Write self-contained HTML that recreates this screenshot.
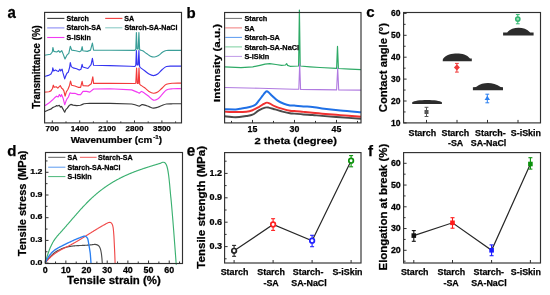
<!DOCTYPE html>
<html><head><meta charset="utf-8"><style>
html,body{margin:0;padding:0;background:#fff;overflow:hidden;}
svg{display:block;filter:blur(0.45px);}
text{font-family:"Liberation Sans", sans-serif;font-weight:bold;fill:#000;stroke:#000;stroke-width:0.25px;}
</style></head><body>
<svg width="550" height="295" viewBox="0 0 550 295">
<line x1="52.30" y1="122.90" x2="52.30" y2="120.40" stroke="#303030" stroke-width="1.0"/>
<text x="52.30" y="131.40" font-size="8.0" text-anchor="middle">700</text>
<line x1="66.00" y1="122.90" x2="66.00" y2="121.40" stroke="#303030" stroke-width="1.0"/>
<line x1="79.70" y1="122.90" x2="79.70" y2="120.40" stroke="#303030" stroke-width="1.0"/>
<text x="79.70" y="131.40" font-size="8.0" text-anchor="middle">1400</text>
<line x1="93.40" y1="122.90" x2="93.40" y2="121.40" stroke="#303030" stroke-width="1.0"/>
<line x1="107.10" y1="122.90" x2="107.10" y2="120.40" stroke="#303030" stroke-width="1.0"/>
<text x="107.10" y="131.40" font-size="8.0" text-anchor="middle">2100</text>
<line x1="120.80" y1="122.90" x2="120.80" y2="121.40" stroke="#303030" stroke-width="1.0"/>
<line x1="134.50" y1="122.90" x2="134.50" y2="120.40" stroke="#303030" stroke-width="1.0"/>
<text x="134.50" y="131.40" font-size="8.0" text-anchor="middle">2800</text>
<line x1="148.20" y1="122.90" x2="148.20" y2="121.40" stroke="#303030" stroke-width="1.0"/>
<line x1="161.90" y1="122.90" x2="161.90" y2="120.40" stroke="#303030" stroke-width="1.0"/>
<text x="161.90" y="131.40" font-size="8.0" text-anchor="middle">3500</text>
<line x1="175.60" y1="122.90" x2="175.60" y2="121.40" stroke="#303030" stroke-width="1.0"/>
<g fill="none" stroke-width="1.15" stroke-linejoin="round">
<path d="M44.50,55.20 L50.40,54.30 L52.30,52.00 L52.90,47.50 L53.80,51.40 L56.70,52.00 L58.60,50.70 L59.90,52.30 L61.80,50.70 L63.10,53.90 L65.00,59.00 L66.90,55.20 L68.80,53.30 L70.30,46.30 L71.70,50.10 L75.80,50.70 L79.60,51.70 L81.20,50.70 L82.20,46.70 L82.80,50.70 L87.30,51.40 L90.50,50.10 L92.40,43.10 L93.60,50.10 L110.00,50.30 L134.90,50.40 L135.80,49.00 L136.40,32.50 L137.10,49.00 L138.20,49.00 L138.90,32.50 L139.60,49.50 L140.60,50.20 C140.95,50.30 141.72,50.25 142.70,50.80 C143.68,51.35 145.20,52.60 146.50,53.50 C147.80,54.40 149.17,55.62 150.50,56.20 C151.83,56.78 153.17,57.12 154.50,57.00 C155.83,56.88 157.17,56.28 158.50,55.50 C159.83,54.72 161.20,53.13 162.50,52.30 C163.80,51.47 164.72,50.82 166.30,50.50 C167.88,50.18 169.47,50.42 172.00,50.40 C174.53,50.38 179.92,50.40 181.50,50.40" stroke="#3a9e98"/>
<path d="M44.50,76.50 L45.30,76.30 L48.40,75.40 L51.00,74.10 L52.40,71.00 L52.80,67.90 L53.70,71.00 L55.50,70.10 L57.20,71.00 L58.50,71.40 L59.90,69.20 L60.70,71.00 L62.10,69.20 L62.90,72.70 L64.70,78.90 L65.60,76.30 L66.90,73.20 L68.20,72.30 L69.60,67.50 L70.30,62.60 L71.30,66.60 L73.10,67.90 L76.60,68.80 L79.20,70.10 L81.00,69.20 L82.10,64.40 L82.80,67.00 L87.90,68.50 L91.10,64.60 L92.40,58.30 L93.60,65.30 L110.00,65.60 L130.00,66.30 L134.90,66.50 L135.80,65.00 L136.40,50.50 L137.10,65.00 L138.20,65.00 L138.90,50.50 L139.60,66.50 L140.40,67.60 C141.12,68.13 143.27,69.72 144.70,70.80 C146.13,71.88 147.55,73.30 149.00,74.10 C150.45,74.90 151.95,75.60 153.40,75.60 C154.85,75.60 156.27,75.07 157.70,74.10 C159.13,73.13 160.55,71.07 162.00,69.80 C163.45,68.53 164.58,67.12 166.40,66.50 C168.22,65.88 170.38,66.17 172.90,66.10 C175.42,66.03 180.07,66.10 181.50,66.10" stroke="#3535f0"/>
<path d="M44.50,92.10 L48.90,91.70 L50.90,90.90 L52.50,88.50 L53.30,85.20 L54.20,87.30 L56.20,86.80 L57.80,88.10 L59.00,86.80 L60.30,85.60 L61.50,88.10 L62.70,88.90 L63.90,90.90 L65.10,96.20 L66.40,91.70 L68.00,89.30 L69.60,85.20 L70.50,81.00 L71.60,85.20 L74.90,86.00 L78.10,87.30 L80.60,87.30 L82.10,81.40 L83.00,85.60 L88.20,86.00 L91.30,83.70 L92.80,76.90 L93.60,83.40 L110.00,83.40 L134.50,83.50 L135.80,83.30 L136.60,68.00 L137.30,83.30 L138.30,83.30 L139.00,68.00 L139.70,84.30 L140.40,84.90 C141.12,85.38 143.27,86.72 144.70,87.80 C146.13,88.88 147.55,90.50 149.00,91.40 C150.45,92.30 151.95,93.08 153.40,93.20 C154.85,93.32 156.27,92.93 157.70,92.10 C159.13,91.27 160.55,89.50 162.00,88.20 C163.45,86.90 164.58,85.13 166.40,84.30 C168.22,83.47 170.38,83.40 172.90,83.20 C175.42,83.00 180.07,83.12 181.50,83.10" stroke="#f23a3a"/>
<path d="M44.50,105.80 L45.20,105.50 L48.90,103.10 L52.10,100.30 L54.60,97.80 L56.60,96.20 L58.20,97.00 L59.40,94.60 L60.70,96.60 L61.50,94.60 L63.10,98.20 L64.70,104.70 L66.00,101.10 L67.20,98.60 L68.40,97.00 L70.00,92.90 L71.60,93.30 L74.90,93.30 L78.10,94.60 L80.60,94.60 L83.00,91.30 L86.70,91.40 L89.80,92.10 L93.60,89.00 L110.00,88.80 L131.70,89.90 L137.10,92.10 L139.30,93.20 L141.40,91.40 C141.77,91.58 142.50,91.77 143.60,92.50 C144.70,93.23 146.37,94.53 148.00,95.80 C149.63,97.07 151.78,99.57 153.40,100.10 C155.02,100.63 156.27,99.90 157.70,99.00 C159.13,98.10 160.55,96.22 162.00,94.70 C163.45,93.18 164.58,90.88 166.40,89.90 C168.22,88.92 170.38,89.00 172.90,88.80 C175.42,88.60 180.07,88.72 181.50,88.70" stroke="#f23af2"/>
<path d="M44.50,111.70 L45.10,111.50 L48.40,110.00 L51.30,108.90 L52.70,107.50 L53.80,107.10 L55.30,106.40 L56.70,105.60 L57.80,106.00 L59.30,105.30 L60.40,107.10 L61.50,106.40 L62.90,108.90 L64.70,112.20 L65.80,109.60 L67.30,108.20 L69.10,105.60 L70.90,104.40 L73.10,105.10 L76.70,105.60 L80.40,105.30 L82.50,104.40 L84.00,103.80 L89.80,103.20 L110.00,103.40 L131.70,104.00 L135.00,104.80 L137.10,105.50 L139.30,106.20 L142.10,104.50 C142.53,104.60 143.55,104.75 144.70,105.10 C145.85,105.45 147.55,106.10 149.00,106.60 C150.45,107.10 151.95,107.98 153.40,108.10 C154.85,108.22 156.27,107.73 157.70,107.30 C159.13,106.87 160.55,106.05 162.00,105.50 C163.45,104.95 164.58,104.28 166.40,104.00 C168.22,103.72 170.38,103.85 172.90,103.80 C175.42,103.75 180.07,103.72 181.50,103.70" stroke="#3a3a3a"/>
</g>
<line x1="47.20" y1="18.40" x2="64.40" y2="18.40" stroke="#3a3a3a" stroke-width="1.1"/>
<text transform="translate(66.60,20.90) scale(1.020,1)" font-size="7.0" text-anchor="start">Starch</text>
<line x1="47.20" y1="27.90" x2="64.40" y2="27.90" stroke="#8c8cf5" stroke-width="1.1"/>
<text transform="translate(66.60,30.40) scale(1.020,1)" font-size="7.0" text-anchor="start">Starch-SA</text>
<line x1="47.20" y1="37.50" x2="64.40" y2="37.50" stroke="#f23af2" stroke-width="1.1"/>
<text transform="translate(66.60,40.00) scale(1.020,1)" font-size="7.0" text-anchor="start">S-iSkin</text>
<line x1="105.20" y1="18.40" x2="122.40" y2="18.40" stroke="#f23a3a" stroke-width="1.1"/>
<text transform="translate(124.20,20.90) scale(1.020,1)" font-size="7.0" text-anchor="start">SA</text>
<line x1="105.20" y1="27.80" x2="122.40" y2="27.80" stroke="#8ccbc6" stroke-width="1.1"/>
<text transform="translate(124.40,30.30) scale(1.020,1)" font-size="7.0" text-anchor="start">Starch-SA-NaCl</text>
<rect x="44.6" y="12.4" width="136.9" height="110.5" fill="none" stroke="#303030" stroke-width="1.15"/>
<text transform="translate(70.7,143.2) scale(1.045,1)" font-size="9.4">Wavenumber (cm<tspan font-size="6" dx="1" dy="-4">-1</tspan><tspan dy="4">)</tspan></text>
<text transform="translate(40.10,67.00) rotate(-90) scale(0.935,1)" font-size="10.4" text-anchor="middle">Transmittance (%)</text>
<text transform="translate(7.60,18.00) scale(0.950,1)" font-size="15.8" text-anchor="start">a</text>
<line x1="252.50" y1="122.90" x2="252.50" y2="119.90" stroke="#303030" stroke-width="1.0"/>
<text x="252.50" y="132.30" font-size="8.8" text-anchor="middle">15</text>
<line x1="294.50" y1="122.90" x2="294.50" y2="119.90" stroke="#303030" stroke-width="1.0"/>
<text x="294.50" y="132.30" font-size="8.8" text-anchor="middle">30</text>
<line x1="336.50" y1="122.90" x2="336.50" y2="119.90" stroke="#303030" stroke-width="1.0"/>
<text x="336.50" y="132.30" font-size="8.8" text-anchor="middle">45</text>
<line x1="231.50" y1="122.90" x2="231.50" y2="120.90" stroke="#303030" stroke-width="1.0"/>
<line x1="273.50" y1="122.90" x2="273.50" y2="120.90" stroke="#303030" stroke-width="1.0"/>
<line x1="315.50" y1="122.90" x2="315.50" y2="120.90" stroke="#303030" stroke-width="1.0"/>
<line x1="357.50" y1="122.90" x2="357.50" y2="120.90" stroke="#303030" stroke-width="1.0"/>
<g fill="none" stroke-linejoin="round">
<polyline points="224.50,66.80 241.00,67.60 252.80,66.80 260.00,65.30 265.00,64.20 269.80,63.70 276.00,64.50 281.60,65.40 285.50,65.00 286.60,63.60 287.60,65.40 290.00,66.30 298.60,66.00 299.40,10.00 300.20,66.00 310.00,66.80 320.00,67.50 336.60,68.40 337.50,46.40 338.40,68.50 350.00,69.20 361.00,69.70" stroke="#2eaa66" stroke-width="1.2"/>
<polyline points="224.50,87.50 260.00,88.30 294.00,89.20 298.80,89.20 299.70,63.70 300.60,89.40 336.60,89.90 337.70,68.00 338.70,90.00 361.00,90.10" stroke="#b07ae0" stroke-width="1.1"/>
<path d="M224.50,116.30 C226.37,116.47 232.07,117.35 235.70,117.30 C239.33,117.25 243.50,116.43 246.30,116.00 C249.10,115.57 250.42,115.63 252.50,114.70 C254.58,113.77 256.70,111.58 258.80,110.40 C260.90,109.22 263.43,108.07 265.10,107.60 C266.77,107.13 267.13,107.30 268.80,107.60 C270.47,107.90 272.80,108.73 275.10,109.40 C277.40,110.07 280.12,110.95 282.60,111.60 C285.08,112.25 288.07,112.97 290.00,113.30 C291.93,113.63 291.98,113.40 294.20,113.60 C296.42,113.80 300.25,114.27 303.30,114.50 C306.35,114.73 309.38,114.77 312.50,115.00 C315.62,115.23 317.37,115.52 322.00,115.90 C326.63,116.28 333.80,116.83 340.30,117.30 C346.80,117.77 357.55,118.47 361.00,118.70" stroke="#4a4a4a" stroke-width="1.9"/>
<path d="M224.50,111.65 C226.37,111.72 232.07,112.03 235.70,112.05 C239.33,112.07 243.50,112.05 246.30,111.75 C249.10,111.45 250.42,111.03 252.50,110.25 C254.58,109.47 256.92,108.10 258.80,107.05 C260.68,106.00 262.45,104.68 263.80,103.95 C265.15,103.22 265.87,102.70 266.90,102.65 C267.93,102.60 268.63,103.02 270.00,103.65 C271.37,104.28 273.00,105.57 275.10,106.45 C277.20,107.33 280.12,108.23 282.60,108.95 C285.08,109.67 288.07,110.46 290.00,110.80 C291.93,111.14 291.98,110.82 294.20,111.00 C296.42,111.18 300.25,111.60 303.30,111.90 C306.35,112.20 309.38,112.50 312.50,112.80 C315.62,113.10 317.37,113.32 322.00,113.70 C326.63,114.08 333.80,114.60 340.30,115.10 C346.80,115.60 357.55,116.43 361.00,116.70" stroke="#f03030" stroke-width="1.9"/>
<path d="M224.50,109.20 C226.37,109.23 233.12,109.47 235.70,109.40 C238.28,109.33 238.23,109.07 240.00,108.80 C241.77,108.53 244.22,108.25 246.30,107.80 C248.38,107.35 250.93,106.67 252.50,106.10 C254.07,105.53 254.65,105.30 255.70,104.40 C256.75,103.50 257.65,102.15 258.80,100.70 C259.95,99.25 261.55,97.07 262.60,95.70 C263.65,94.33 264.38,93.23 265.10,92.50 C265.82,91.77 266.28,91.30 266.90,91.30 C267.52,91.30 267.85,91.67 268.80,92.50 C269.75,93.33 271.13,94.93 272.60,96.30 C274.07,97.67 275.72,99.45 277.60,100.70 C279.48,101.95 281.83,103.02 283.90,103.80 C285.97,104.58 288.28,105.12 290.00,105.40 C291.72,105.68 291.98,105.33 294.20,105.50 C296.42,105.67 300.25,106.17 303.30,106.40 C306.35,106.63 309.38,106.55 312.50,106.90 C315.62,107.25 317.37,107.88 322.00,108.50 C326.63,109.12 333.80,109.97 340.30,110.60 C346.80,111.23 357.55,112.02 361.00,112.30" stroke="#1f70e6" stroke-width="2.0"/>
</g>
<line x1="225.20" y1="18.40" x2="242.00" y2="18.40" stroke="#707070" stroke-width="1.0"/>
<text x="244.40" y="21.10" font-size="7.35" text-anchor="start">Starch</text>
<line x1="225.20" y1="27.90" x2="242.00" y2="27.90" stroke="#f07a7a" stroke-width="1.0"/>
<text x="244.40" y="30.60" font-size="7.35" text-anchor="start">SA</text>
<line x1="225.20" y1="37.40" x2="242.00" y2="37.40" stroke="#5a9af0" stroke-width="1.0"/>
<text x="244.40" y="40.10" font-size="7.35" text-anchor="start">Starch-SA</text>
<line x1="225.20" y1="46.90" x2="242.00" y2="46.90" stroke="#7acf9e" stroke-width="1.0"/>
<text x="244.40" y="49.60" font-size="7.35" text-anchor="start">Starch-SA-NaCl</text>
<line x1="225.20" y1="56.40" x2="242.00" y2="56.40" stroke="#c09ae8" stroke-width="1.0"/>
<text x="244.40" y="59.10" font-size="7.35" text-anchor="start">S-iSkin</text>
<rect x="224.6" y="12.5" width="136.4" height="110.4" fill="none" stroke="#303030" stroke-width="1.15"/>
<text transform="translate(254.60,143.70) scale(1.140,1)" font-size="9.7" text-anchor="start">2 theta (degree)</text>
<text transform="translate(219.50,63.00) rotate(-90) scale(1.200,1)" font-size="9.6" text-anchor="middle">Intensity (a.u.)</text>
<text x="186.45" y="17.80" font-size="15" text-anchor="start">b</text>
<line x1="403.60" y1="122.90" x2="406.60" y2="122.90" stroke="#303030" stroke-width="1.0"/>
<text transform="translate(400.60,125.50) scale(1.030,1)" font-size="8.3" text-anchor="end">10</text>
<line x1="403.60" y1="101.00" x2="406.60" y2="101.00" stroke="#303030" stroke-width="1.0"/>
<text transform="translate(400.60,103.60) scale(1.030,1)" font-size="8.3" text-anchor="end">20</text>
<line x1="403.60" y1="79.10" x2="406.60" y2="79.10" stroke="#303030" stroke-width="1.0"/>
<text transform="translate(400.60,81.70) scale(1.030,1)" font-size="8.3" text-anchor="end">30</text>
<line x1="403.60" y1="57.20" x2="406.60" y2="57.20" stroke="#303030" stroke-width="1.0"/>
<text transform="translate(400.60,59.80) scale(1.030,1)" font-size="8.3" text-anchor="end">40</text>
<line x1="403.60" y1="35.30" x2="406.60" y2="35.30" stroke="#303030" stroke-width="1.0"/>
<text transform="translate(400.60,37.90) scale(1.030,1)" font-size="8.3" text-anchor="end">50</text>
<line x1="403.60" y1="13.40" x2="406.60" y2="13.40" stroke="#303030" stroke-width="1.0"/>
<text transform="translate(400.60,16.00) scale(1.030,1)" font-size="8.3" text-anchor="end">60</text>
<line x1="403.60" y1="111.95" x2="405.60" y2="111.95" stroke="#303030" stroke-width="1.0"/>
<line x1="403.60" y1="90.05" x2="405.60" y2="90.05" stroke="#303030" stroke-width="1.0"/>
<line x1="403.60" y1="68.15" x2="405.60" y2="68.15" stroke="#303030" stroke-width="1.0"/>
<line x1="403.60" y1="46.25" x2="405.60" y2="46.25" stroke="#303030" stroke-width="1.0"/>
<line x1="403.60" y1="24.35" x2="405.60" y2="24.35" stroke="#303030" stroke-width="1.0"/>
<line x1="426.50" y1="122.90" x2="426.50" y2="119.90" stroke="#303030" stroke-width="1.0"/>
<line x1="457.00" y1="122.90" x2="457.00" y2="119.90" stroke="#303030" stroke-width="1.0"/>
<line x1="487.50" y1="122.90" x2="487.50" y2="119.90" stroke="#303030" stroke-width="1.0"/>
<line x1="518.00" y1="122.90" x2="518.00" y2="119.90" stroke="#303030" stroke-width="1.0"/>
<g fill="#2c2c2c">
<path d="M412.2,104.1 L412.2,102.2 C414,100.8 420,99.9 427,99.9 C434,99.9 440,100.8 441.9,102.2 L441.9,104.1 Z"/>
<path d="M442.7,61.2 L442.9,59.1 C446,54.1 452,53.4 457,53.4 C462,53.4 467,54.6 470,58.4 L471.8,58.6 L471.8,61.2 Z"/>
<path d="M472.9,90.2 L472.9,87.3 L476,87 C480,83.6 484,82.9 488,82.9 C492,82.9 497,84 500.6,87 L503,87.3 L503,90.2 Z"/>
<path d="M503.1,35.4 L503.1,32.6 L507.2,32.4 C510,29 514,27.8 518.6,27.8 C523,27.8 527,29 530.2,32.4 L533.6,32.6 L533.6,35.4 Z"/>
</g>
<line x1="426.50" y1="107.30" x2="426.50" y2="116.50" stroke="#555" stroke-width="1.0"/>
<line x1="424.60" y1="107.30" x2="428.40" y2="107.30" stroke="#555" stroke-width="1.0"/>
<line x1="424.60" y1="116.50" x2="428.40" y2="116.50" stroke="#555" stroke-width="1.0"/>
<rect x="424.5" y="110" width="4" height="4" fill="#555"/>
<line x1="456.90" y1="63.40" x2="456.90" y2="72.10" stroke="#f03a3a" stroke-width="1.0"/>
<line x1="455.00" y1="63.40" x2="458.80" y2="63.40" stroke="#f03a3a" stroke-width="1.0"/>
<line x1="455.00" y1="72.10" x2="458.80" y2="72.10" stroke="#f03a3a" stroke-width="1.0"/>
<path d="M456.9,64.3 L459.9,67.4 L456.9,70.5 L453.9,67.4 Z" fill="#f03a3a"/>
<line x1="487.30" y1="94.20" x2="487.30" y2="102.80" stroke="#2a7ff0" stroke-width="1.0"/>
<line x1="485.40" y1="94.20" x2="489.20" y2="94.20" stroke="#2a7ff0" stroke-width="1.0"/>
<line x1="485.40" y1="102.80" x2="489.20" y2="102.80" stroke="#2a7ff0" stroke-width="1.0"/>
<path d="M487.3,95.8 L490,100 L484.6,100 Z" fill="#2a7ff0"/>
<line x1="517.80" y1="14.60" x2="517.80" y2="23.80" stroke="#2fb56e" stroke-width="1.0"/>
<line x1="515.90" y1="14.60" x2="519.70" y2="14.60" stroke="#2fb56e" stroke-width="1.0"/>
<line x1="515.90" y1="23.80" x2="519.70" y2="23.80" stroke="#2fb56e" stroke-width="1.0"/>
<circle cx="517.8" cy="19.1" r="2.1" fill="#9adbb6" stroke="#2fb56e" stroke-width="1.5"/>
<rect x="403.6" y="12.5" width="136.89999999999998" height="110.4" fill="none" stroke="#303030" stroke-width="1.15"/>
<text x="422.30" y="135.60" font-size="8.9" text-anchor="middle">Starch</text>
<text x="455.30" y="135.60" font-size="8.9" text-anchor="middle">Starch</text>
<text x="455.60" y="146.40" font-size="8.9" text-anchor="middle">-SA</text>
<text x="490.40" y="135.60" font-size="8.9" text-anchor="middle">Starch-</text>
<text x="488.60" y="146.40" font-size="8.9" text-anchor="middle">SA-NaCl</text>
<text x="525.90" y="135.60" font-size="8.9" text-anchor="middle">S-iSkin</text>
<text transform="translate(386.70,67.60) rotate(-90) scale(1.030,1)" font-size="10.9" text-anchor="middle">Contact angle (°)</text>
<text x="366.30" y="17.40" font-size="15" text-anchor="start">c</text>
<line x1="45.20" y1="263.50" x2="45.20" y2="260.50" stroke="#303030" stroke-width="1.0"/>
<text transform="translate(45.20,272.60) scale(1.060,1)" font-size="8.4" text-anchor="middle">0</text>
<line x1="65.87" y1="263.50" x2="65.87" y2="260.50" stroke="#303030" stroke-width="1.0"/>
<text transform="translate(65.87,272.60) scale(1.060,1)" font-size="8.4" text-anchor="middle">10</text>
<line x1="86.54" y1="263.50" x2="86.54" y2="260.50" stroke="#303030" stroke-width="1.0"/>
<text transform="translate(86.54,272.60) scale(1.060,1)" font-size="8.4" text-anchor="middle">20</text>
<line x1="107.21" y1="263.50" x2="107.21" y2="260.50" stroke="#303030" stroke-width="1.0"/>
<text transform="translate(107.21,272.60) scale(1.060,1)" font-size="8.4" text-anchor="middle">30</text>
<line x1="127.88" y1="263.50" x2="127.88" y2="260.50" stroke="#303030" stroke-width="1.0"/>
<text transform="translate(127.88,272.60) scale(1.060,1)" font-size="8.4" text-anchor="middle">40</text>
<line x1="148.55" y1="263.50" x2="148.55" y2="260.50" stroke="#303030" stroke-width="1.0"/>
<text transform="translate(148.55,272.60) scale(1.060,1)" font-size="8.4" text-anchor="middle">50</text>
<line x1="169.22" y1="263.50" x2="169.22" y2="260.50" stroke="#303030" stroke-width="1.0"/>
<text transform="translate(169.22,272.60) scale(1.060,1)" font-size="8.4" text-anchor="middle">60</text>
<line x1="55.54" y1="263.50" x2="55.54" y2="261.50" stroke="#303030" stroke-width="1.0"/>
<line x1="76.21" y1="263.50" x2="76.21" y2="261.50" stroke="#303030" stroke-width="1.0"/>
<line x1="96.88" y1="263.50" x2="96.88" y2="261.50" stroke="#303030" stroke-width="1.0"/>
<line x1="117.55" y1="263.50" x2="117.55" y2="261.50" stroke="#303030" stroke-width="1.0"/>
<line x1="138.22" y1="263.50" x2="138.22" y2="261.50" stroke="#303030" stroke-width="1.0"/>
<line x1="158.88" y1="263.50" x2="158.88" y2="261.50" stroke="#303030" stroke-width="1.0"/>
<line x1="179.56" y1="263.50" x2="179.56" y2="261.50" stroke="#303030" stroke-width="1.0"/>
<line x1="45.50" y1="263.10" x2="48.50" y2="263.10" stroke="#303030" stroke-width="1.0"/>
<text transform="translate(42.50,264.80) scale(1.100,1)" font-size="8.0" text-anchor="end">0.0</text>
<line x1="45.50" y1="240.40" x2="48.50" y2="240.40" stroke="#303030" stroke-width="1.0"/>
<text transform="translate(42.50,242.10) scale(1.100,1)" font-size="8.0" text-anchor="end">0.3</text>
<line x1="45.50" y1="217.70" x2="48.50" y2="217.70" stroke="#303030" stroke-width="1.0"/>
<text transform="translate(42.50,219.40) scale(1.100,1)" font-size="8.0" text-anchor="end">0.6</text>
<line x1="45.50" y1="195.00" x2="48.50" y2="195.00" stroke="#303030" stroke-width="1.0"/>
<text transform="translate(42.50,196.70) scale(1.100,1)" font-size="8.0" text-anchor="end">0.9</text>
<line x1="45.50" y1="172.30" x2="48.50" y2="172.30" stroke="#303030" stroke-width="1.0"/>
<text transform="translate(42.50,174.00) scale(1.100,1)" font-size="8.0" text-anchor="end">1.2</text>
<line x1="45.50" y1="251.75" x2="47.50" y2="251.75" stroke="#303030" stroke-width="1.0"/>
<line x1="45.50" y1="229.05" x2="47.50" y2="229.05" stroke="#303030" stroke-width="1.0"/>
<line x1="45.50" y1="206.35" x2="47.50" y2="206.35" stroke="#303030" stroke-width="1.0"/>
<line x1="45.50" y1="183.65" x2="47.50" y2="183.65" stroke="#303030" stroke-width="1.0"/>
<line x1="45.50" y1="160.95" x2="47.50" y2="160.95" stroke="#303030" stroke-width="1.0"/>
<g fill="none" stroke-width="1.15" stroke-linejoin="round">
<path d="M45.40,262.49 C45.48,262.37 45.73,262.00 45.90,261.77 C46.07,261.53 46.23,261.30 46.40,261.07 C46.57,260.84 46.73,260.62 46.90,260.40 C47.07,260.18 47.23,259.96 47.40,259.75 C47.57,259.53 47.73,259.33 47.90,259.12 C48.07,258.91 48.23,258.71 48.40,258.51 C48.57,258.32 48.73,258.12 48.90,257.93 C49.07,257.74 49.23,257.55 49.40,257.37 C49.57,257.18 49.73,257.00 49.90,256.82 C50.07,256.65 50.23,256.47 50.40,256.30 C50.57,256.13 50.73,255.96 50.90,255.80 C51.07,255.63 51.23,255.47 51.40,255.31 C51.57,255.15 51.73,255.00 51.90,254.85 C52.07,254.69 52.23,254.54 52.40,254.40 C52.57,254.25 52.73,254.11 52.90,253.97 C53.07,253.82 53.23,253.69 53.40,253.55 C53.57,253.42 53.73,253.28 53.90,253.15 C54.07,253.02 54.23,252.90 54.40,252.77 C54.57,252.65 54.73,252.52 54.90,252.40 C55.07,252.28 55.23,252.17 55.40,252.05 C55.57,251.94 55.73,251.83 55.90,251.71 C56.07,251.60 56.23,251.50 56.40,251.39 C56.57,251.29 56.73,251.18 56.90,251.08 C57.07,250.98 57.23,250.88 57.40,250.78 C57.57,250.69 57.73,250.59 57.90,250.50 C58.07,250.41 58.23,250.32 58.40,250.23 C58.57,250.14 58.73,250.05 58.90,249.97 C59.07,249.88 59.23,249.80 59.40,249.72 C59.57,249.63 59.73,249.55 59.90,249.48 C60.07,249.40 60.23,249.32 60.40,249.25 C60.57,249.17 60.73,249.10 60.90,249.03 C61.07,248.95 61.23,248.88 61.40,248.81 C61.57,248.75 61.73,248.68 61.90,248.61 C62.07,248.55 62.23,248.48 62.40,248.42 C62.57,248.36 62.73,248.29 62.90,248.23 C63.07,248.17 63.23,248.12 63.40,248.06 C63.57,248.00 63.73,247.95 63.90,247.89 C64.07,247.84 64.23,247.78 64.40,247.73 C64.57,247.68 64.73,247.63 64.90,247.58 C65.07,247.53 65.23,247.48 65.40,247.43 C65.57,247.39 65.73,247.34 65.90,247.30 C66.07,247.25 66.23,247.21 66.40,247.17 C66.57,247.12 66.73,247.08 66.90,247.04 C67.07,247.00 67.23,246.96 67.40,246.93 C67.57,246.89 67.73,246.85 67.90,246.82 C68.07,246.78 68.23,246.75 68.40,246.71 C68.57,246.68 68.73,246.65 68.90,246.61 C69.07,246.58 69.23,246.55 69.40,246.52 C69.57,246.49 69.73,246.46 69.90,246.43 C70.07,246.41 70.23,246.38 70.40,246.35 C70.57,246.33 70.73,246.30 70.90,246.28 C71.07,246.25 71.23,246.23 71.40,246.20 C71.57,246.18 71.73,246.16 71.90,246.14 C72.07,246.12 72.23,246.10 72.40,246.07 C72.57,246.05 72.73,246.04 72.90,246.02 C73.07,246.00 73.23,245.98 73.40,245.96 C73.57,245.94 73.73,245.93 73.90,245.91 C74.07,245.90 74.23,245.88 74.40,245.87 C74.57,245.85 74.73,245.84 74.90,245.82 C75.07,245.81 75.23,245.79 75.40,245.78 C75.57,245.77 75.73,245.76 75.90,245.74 C76.07,245.73 76.23,245.72 76.40,245.71 C76.57,245.70 76.73,245.69 76.90,245.68 C77.07,245.67 77.23,245.66 77.40,245.65 C77.57,245.64 77.73,245.63 77.90,245.62 C78.07,245.61 78.23,245.60 78.40,245.59 C78.57,245.58 78.73,245.57 78.90,245.57 C79.07,245.56 79.23,245.55 79.40,245.54 C79.57,245.54 79.73,245.53 79.90,245.52 C80.07,245.51 80.23,245.51 80.40,245.50 C80.57,245.49 80.73,245.48 80.90,245.48 C81.07,245.47 81.23,245.46 81.40,245.46 C81.57,245.45 81.73,245.44 81.90,245.44 C82.07,245.43 82.23,245.42 82.40,245.42 C82.57,245.41 82.73,245.40 82.90,245.40 C83.07,245.39 83.23,245.38 83.40,245.38 C83.57,245.37 83.73,245.36 83.90,245.36 C84.07,245.35 84.23,245.34 84.40,245.33 C84.57,245.33 84.73,245.32 84.90,245.31 C85.07,245.30 85.23,245.29 85.40,245.29 C85.57,245.28 85.73,245.27 85.90,245.26 C86.07,245.25 86.23,245.24 86.40,245.23 C86.57,245.22 86.73,245.21 86.90,245.20 C87.07,245.19 87.23,245.18 87.40,245.17 C87.57,245.16 87.73,245.15 87.90,245.14 C88.07,245.12 88.23,245.11 88.40,245.10 C88.57,245.09 88.73,245.07 88.90,245.06 C89.07,245.05 89.23,245.03 89.40,245.02 C89.57,245.00 89.73,244.99 89.90,244.97 C90.07,244.95 90.23,244.94 90.40,244.92 C90.57,244.90 90.73,244.89 90.90,244.87 C91.07,244.85 91.23,244.83 91.40,244.81 C91.57,244.79 91.73,244.77 91.90,244.75 C92.07,244.73 92.23,244.71 92.40,244.68 C92.57,244.66 92.73,244.64 92.90,244.61 C93.07,244.59 93.23,244.56 93.40,244.54 C93.57,244.51 93.73,244.48 93.90,244.46 C94.07,244.43 94.30,244.39 94.40,244.37 C94.50,244.35 94.03,244.27 94.50,244.35 C94.97,244.44 96.42,244.58 97.20,244.90 C97.98,245.22 98.67,245.65 99.20,246.30 C99.73,246.95 100.05,247.68 100.40,248.80 C100.75,249.92 101.05,251.47 101.30,253.00 C101.55,254.53 101.73,256.28 101.90,258.00 C102.07,259.72 102.23,262.42 102.30,263.30" stroke="#4a4a4a"/>
<path d="M45.40,262.61 C45.48,262.51 45.73,262.20 45.90,262.00 C46.07,261.80 46.23,261.61 46.40,261.41 C46.57,261.22 46.73,261.03 46.90,260.84 C47.07,260.65 47.23,260.47 47.40,260.29 C47.57,260.10 47.73,259.92 47.90,259.75 C48.07,259.57 48.23,259.39 48.40,259.22 C48.57,259.05 48.73,258.88 48.90,258.71 C49.07,258.54 49.23,258.38 49.40,258.22 C49.57,258.05 49.73,257.89 49.90,257.73 C50.07,257.57 50.23,257.42 50.40,257.26 C50.57,257.11 50.73,256.96 50.90,256.81 C51.07,256.66 51.23,256.51 51.40,256.37 C51.57,256.22 51.73,256.08 51.90,255.94 C52.07,255.79 52.23,255.66 52.40,255.52 C52.57,255.38 52.73,255.24 52.90,255.11 C53.07,254.98 53.23,254.84 53.40,254.71 C53.57,254.58 53.73,254.46 53.90,254.33 C54.07,254.20 54.23,254.08 54.40,253.95 C54.57,253.83 54.73,253.71 54.90,253.59 C55.07,253.47 55.23,253.35 55.40,253.23 C55.57,253.12 55.73,253.00 55.90,252.89 C56.07,252.77 56.23,252.66 56.40,252.55 C56.57,252.44 56.73,252.33 56.90,252.22 C57.07,252.11 57.23,252.00 57.40,251.90 C57.57,251.79 57.73,251.69 57.90,251.58 C58.07,251.48 58.23,251.38 58.40,251.28 C58.57,251.18 58.73,251.08 58.90,250.98 C59.07,250.88 59.23,250.78 59.40,250.68 C59.57,250.59 59.73,250.49 59.90,250.39 C60.07,250.30 60.23,250.20 60.40,250.11 C60.57,250.02 60.73,249.92 60.90,249.83 C61.07,249.74 61.23,249.65 61.40,249.56 C61.57,249.47 61.73,249.38 61.90,249.29 C62.07,249.20 62.23,249.11 62.40,249.03 C62.57,248.94 62.73,248.85 62.90,248.76 C63.07,248.68 63.23,248.59 63.40,248.51 C63.57,248.42 63.73,248.33 63.90,248.25 C64.07,248.16 64.23,248.08 64.40,248.00 C64.57,247.91 64.73,247.83 64.90,247.74 C65.07,247.66 65.23,247.58 65.40,247.49 C65.57,247.41 65.73,247.33 65.90,247.24 C66.07,247.16 66.23,247.08 66.40,246.99 C66.57,246.91 66.73,246.83 66.90,246.75 C67.07,246.66 67.23,246.58 67.40,246.50 C67.57,246.41 67.73,246.33 67.90,246.25 C68.07,246.16 68.23,246.08 68.40,246.00 C68.57,245.91 68.73,245.83 68.90,245.75 C69.07,245.66 69.23,245.58 69.40,245.49 C69.57,245.41 69.73,245.32 69.90,245.24 C70.07,245.15 70.23,245.06 70.40,244.98 C70.57,244.89 70.73,244.80 70.90,244.72 C71.07,244.63 71.23,244.54 71.40,244.45 C71.57,244.36 71.73,244.27 71.90,244.19 C72.07,244.10 72.23,244.01 72.40,243.92 C72.57,243.83 72.73,243.73 72.90,243.64 C73.07,243.55 73.23,243.46 73.40,243.37 C73.57,243.28 73.73,243.18 73.90,243.09 C74.07,243.00 74.23,242.90 74.40,242.81 C74.57,242.72 74.73,242.62 74.90,242.53 C75.07,242.43 75.23,242.34 75.40,242.24 C75.57,242.15 75.73,242.05 75.90,241.96 C76.07,241.86 76.23,241.76 76.40,241.67 C76.57,241.57 76.73,241.47 76.90,241.38 C77.07,241.28 77.23,241.18 77.40,241.08 C77.57,240.99 77.73,240.89 77.90,240.79 C78.07,240.69 78.23,240.59 78.40,240.49 C78.57,240.39 78.73,240.29 78.90,240.19 C79.07,240.09 79.23,239.99 79.40,239.89 C79.57,239.79 79.73,239.69 79.90,239.59 C80.07,239.49 80.23,239.39 80.40,239.29 C80.57,239.19 80.73,239.09 80.90,238.99 C81.07,238.89 81.23,238.78 81.40,238.68 C81.57,238.58 81.73,238.48 81.90,238.37 C82.07,238.27 82.23,238.17 82.40,238.07 C82.57,237.96 82.73,237.86 82.90,237.76 C83.07,237.66 83.23,237.55 83.40,237.45 C83.57,237.35 83.73,237.24 83.90,237.14 C84.07,237.03 84.23,236.93 84.40,236.83 C84.57,236.72 84.73,236.62 84.90,236.51 C85.07,236.41 85.23,236.31 85.40,236.20 C85.57,236.10 85.73,235.99 85.90,235.89 C86.07,235.78 86.23,235.68 86.40,235.58 C86.57,235.47 86.73,235.37 86.90,235.26 C87.07,235.16 87.23,235.05 87.40,234.95 C87.57,234.84 87.73,234.74 87.90,234.63 C88.07,234.53 88.23,234.42 88.40,234.32 C88.57,234.21 88.73,234.11 88.90,234.00 C89.07,233.90 89.23,233.79 89.40,233.69 C89.57,233.58 89.73,233.48 89.90,233.37 C90.07,233.27 90.23,233.16 90.40,233.06 C90.57,232.95 90.73,232.85 90.90,232.75 C91.07,232.64 91.23,232.54 91.40,232.43 C91.57,232.33 91.73,232.22 91.90,232.12 C92.07,232.01 92.23,231.91 92.40,231.81 C92.57,231.70 92.73,231.60 92.90,231.49 C93.07,231.39 93.23,231.29 93.40,231.18 C93.57,231.08 93.73,230.97 93.90,230.87 C94.07,230.77 94.23,230.66 94.40,230.56 C94.57,230.46 94.73,230.36 94.90,230.25 C95.07,230.15 95.23,230.05 95.40,229.94 C95.57,229.84 95.73,229.74 95.90,229.64 C96.07,229.54 96.23,229.43 96.40,229.33 C96.57,229.23 96.73,229.13 96.90,229.03 C97.07,228.93 97.23,228.83 97.40,228.73 C97.57,228.62 97.73,228.52 97.90,228.42 C98.07,228.32 98.23,228.22 98.40,228.12 C98.57,228.02 98.73,227.92 98.90,227.83 C99.07,227.73 99.23,227.63 99.40,227.53 C99.57,227.43 99.73,227.33 99.90,227.23 C100.07,227.14 100.23,227.04 100.40,226.94 C100.57,226.84 100.73,226.75 100.90,226.65 C101.07,226.55 101.23,226.46 101.40,226.36 C101.57,226.26 101.73,226.17 101.90,226.07 C102.07,225.98 102.23,225.88 102.40,225.79 C102.57,225.69 102.73,225.60 102.90,225.51 C103.07,225.41 103.23,225.32 103.40,225.22 C103.57,225.13 103.73,225.04 103.90,224.95 C104.07,224.85 104.23,224.76 104.40,224.67 C104.57,224.58 104.73,224.49 104.90,224.40 C105.07,224.31 105.23,224.22 105.40,224.13 C105.57,224.04 105.73,223.95 105.90,223.86 C106.07,223.77 106.23,223.68 106.40,223.60 C106.57,223.51 106.73,223.42 106.90,223.33 C107.07,223.25 107.23,223.16 107.40,223.08 C107.57,222.99 107.75,222.90 107.90,222.82 C108.05,222.74 107.85,222.67 108.30,222.62 C108.75,222.56 109.95,222.24 110.60,222.50 C111.25,222.76 111.77,223.28 112.20,224.20 C112.63,225.12 112.92,226.03 113.20,228.00 C113.48,229.97 113.70,233.00 113.90,236.00 C114.10,239.00 114.25,242.88 114.40,246.00 C114.55,249.12 114.68,251.82 114.80,254.70 C114.92,257.58 115.05,261.87 115.10,263.30" stroke="#f04848"/>
<path d="M45.40,262.54 C45.48,262.22 45.73,261.26 45.90,260.64 C46.07,260.02 46.23,259.42 46.40,258.84 C46.57,258.25 46.73,257.68 46.90,257.12 C47.07,256.57 47.23,256.02 47.40,255.50 C47.57,254.97 47.73,254.45 47.90,253.95 C48.07,253.45 48.23,252.96 48.40,252.49 C48.57,252.01 48.73,251.55 48.90,251.10 C49.07,250.65 49.23,250.21 49.40,249.78 C49.57,249.35 49.73,248.94 49.90,248.53 C50.07,248.13 50.23,247.74 50.40,247.35 C50.57,246.97 50.73,246.60 50.90,246.24 C51.07,245.87 51.23,245.52 51.40,245.18 C51.57,244.84 51.73,244.50 51.90,244.18 C52.07,243.85 52.23,243.54 52.40,243.23 C52.57,242.92 52.73,242.62 52.90,242.33 C53.07,242.04 53.23,241.76 53.40,241.48 C53.57,241.20 53.73,240.93 53.90,240.67 C54.07,240.41 54.23,240.15 54.40,239.90 C54.57,239.65 54.73,239.40 54.90,239.17 C55.07,238.93 55.23,238.69 55.40,238.47 C55.57,238.24 55.73,238.01 55.90,237.79 C56.07,237.58 56.23,237.36 56.40,237.15 C56.57,236.94 56.73,236.73 56.90,236.53 C57.07,236.33 57.23,236.13 57.40,235.93 C57.57,235.73 57.73,235.54 57.90,235.34 C58.07,235.15 58.23,234.96 58.40,234.77 C58.57,234.58 58.73,234.40 58.90,234.21 C59.07,234.03 59.23,233.84 59.40,233.66 C59.57,233.47 59.73,233.29 59.90,233.11 C60.07,232.92 60.23,232.74 60.40,232.55 C60.57,232.37 60.73,232.18 60.90,232.00 C61.07,231.81 61.23,231.63 61.40,231.44 C61.57,231.26 61.73,231.07 61.90,230.88 C62.07,230.70 62.23,230.51 62.40,230.32 C62.57,230.14 62.73,229.95 62.90,229.76 C63.07,229.57 63.23,229.38 63.40,229.19 C63.57,229.01 63.73,228.82 63.90,228.63 C64.07,228.44 64.23,228.25 64.40,228.06 C64.57,227.87 64.73,227.68 64.90,227.49 C65.07,227.30 65.23,227.11 65.40,226.92 C65.57,226.72 65.73,226.53 65.90,226.34 C66.07,226.15 66.23,225.96 66.40,225.77 C66.57,225.58 66.73,225.38 66.90,225.19 C67.07,225.00 67.23,224.81 67.40,224.61 C67.57,224.42 67.73,224.23 67.90,224.04 C68.07,223.84 68.23,223.65 68.40,223.46 C68.57,223.27 68.73,223.07 68.90,222.88 C69.07,222.69 69.23,222.49 69.40,222.30 C69.57,222.11 69.73,221.91 69.90,221.72 C70.07,221.53 70.23,221.33 70.40,221.14 C70.57,220.95 70.73,220.75 70.90,220.56 C71.07,220.37 71.23,220.17 71.40,219.98 C71.57,219.79 71.73,219.59 71.90,219.40 C72.07,219.21 72.23,219.02 72.40,218.82 C72.57,218.63 72.73,218.44 72.90,218.24 C73.07,218.05 73.23,217.86 73.40,217.67 C73.57,217.47 73.73,217.28 73.90,217.09 C74.07,216.90 74.23,216.70 74.40,216.51 C74.57,216.32 74.73,216.13 74.90,215.94 C75.07,215.74 75.23,215.55 75.40,215.36 C75.57,215.17 75.73,214.98 75.90,214.79 C76.07,214.60 76.23,214.41 76.40,214.22 C76.57,214.03 76.73,213.84 76.90,213.65 C77.07,213.46 77.23,213.27 77.40,213.08 C77.57,212.89 77.73,212.70 77.90,212.51 C78.07,212.32 78.23,212.13 78.40,211.95 C78.57,211.76 78.73,211.57 78.90,211.38 C79.07,211.20 79.23,211.01 79.40,210.82 C79.57,210.64 79.73,210.45 79.90,210.26 C80.07,210.08 80.23,209.89 80.40,209.71 C80.57,209.52 80.73,209.34 80.90,209.15 C81.07,208.97 81.23,208.79 81.40,208.60 C81.57,208.42 81.73,208.24 81.90,208.06 C82.07,207.87 82.23,207.69 82.40,207.51 C82.57,207.33 82.73,207.15 82.90,206.97 C83.07,206.79 83.23,206.61 83.40,206.43 C83.57,206.25 83.73,206.07 83.90,205.90 C84.07,205.72 84.23,205.54 84.40,205.36 C84.57,205.19 84.73,205.01 84.90,204.84 C85.07,204.66 85.23,204.49 85.40,204.31 C85.57,204.14 85.73,203.96 85.90,203.79 C86.07,203.62 86.23,203.45 86.40,203.28 C86.57,203.10 86.73,202.93 86.90,202.76 C87.07,202.59 87.23,202.42 87.40,202.26 C87.57,202.09 87.73,201.92 87.90,201.75 C88.07,201.58 88.23,201.42 88.40,201.25 C88.57,201.09 88.73,200.92 88.90,200.76 C89.07,200.59 89.23,200.43 89.40,200.27 C89.57,200.11 89.73,199.95 89.90,199.78 C90.07,199.62 90.23,199.46 90.40,199.30 C90.57,199.15 90.73,198.99 90.90,198.83 C91.07,198.67 91.23,198.52 91.40,198.36 C91.57,198.20 91.73,198.05 91.90,197.89 C92.07,197.74 92.23,197.59 92.40,197.43 C92.57,197.28 92.73,197.13 92.90,196.98 C93.07,196.83 93.23,196.67 93.40,196.53 C93.57,196.38 93.73,196.23 93.90,196.08 C94.07,195.93 94.23,195.78 94.40,195.64 C94.57,195.49 94.73,195.34 94.90,195.20 C95.07,195.05 95.23,194.91 95.40,194.76 C95.57,194.62 95.73,194.48 95.90,194.33 C96.07,194.19 96.23,194.05 96.40,193.91 C96.57,193.77 96.73,193.63 96.90,193.49 C97.07,193.35 97.23,193.21 97.40,193.07 C97.57,192.93 97.73,192.80 97.90,192.66 C98.07,192.52 98.23,192.39 98.40,192.25 C98.57,192.12 98.73,191.98 98.90,191.85 C99.07,191.72 99.23,191.58 99.40,191.45 C99.57,191.32 99.73,191.19 99.90,191.06 C100.07,190.92 100.23,190.79 100.40,190.66 C100.57,190.53 100.73,190.41 100.90,190.28 C101.07,190.15 101.23,190.02 101.40,189.89 C101.57,189.77 101.73,189.64 101.90,189.52 C102.07,189.39 102.23,189.26 102.40,189.14 C102.57,189.02 102.73,188.89 102.90,188.77 C103.07,188.65 103.23,188.52 103.40,188.40 C103.57,188.28 103.73,188.16 103.90,188.04 C104.07,187.92 104.23,187.80 104.40,187.68 C104.57,187.56 104.73,187.44 104.90,187.32 C105.07,187.21 105.23,187.09 105.40,186.97 C105.57,186.86 105.73,186.74 105.90,186.62 C106.07,186.51 106.23,186.39 106.40,186.28 C106.57,186.17 106.73,186.05 106.90,185.94 C107.07,185.83 107.23,185.71 107.40,185.60 C107.57,185.49 107.73,185.38 107.90,185.27 C108.07,185.16 108.23,185.05 108.40,184.94 C108.57,184.83 108.73,184.72 108.90,184.61 C109.07,184.50 109.23,184.40 109.40,184.29 C109.57,184.18 109.73,184.07 109.90,183.97 C110.07,183.86 110.23,183.76 110.40,183.65 C110.57,183.55 110.73,183.44 110.90,183.34 C111.07,183.24 111.23,183.13 111.40,183.03 C111.57,182.93 111.73,182.83 111.90,182.72 C112.07,182.62 112.23,182.52 112.40,182.42 C112.57,182.32 112.73,182.22 112.90,182.12 C113.07,182.02 113.23,181.92 113.40,181.82 C113.57,181.73 113.73,181.63 113.90,181.53 C114.07,181.43 114.23,181.34 114.40,181.24 C114.57,181.15 114.73,181.05 114.90,180.95 C115.07,180.86 115.23,180.76 115.40,180.67 C115.57,180.58 115.73,180.48 115.90,180.39 C116.07,180.30 116.23,180.20 116.40,180.11 C116.57,180.02 116.73,179.93 116.90,179.84 C117.07,179.75 117.23,179.65 117.40,179.56 C117.57,179.47 117.73,179.38 117.90,179.30 C118.07,179.21 118.23,179.12 118.40,179.03 C118.57,178.94 118.73,178.85 118.90,178.77 C119.07,178.68 119.23,178.59 119.40,178.50 C119.57,178.42 119.73,178.33 119.90,178.25 C120.07,178.16 120.23,178.08 120.40,177.99 C120.57,177.91 120.73,177.82 120.90,177.74 C121.07,177.65 121.23,177.57 121.40,177.49 C121.57,177.41 121.73,177.32 121.90,177.24 C122.07,177.16 122.23,177.08 122.40,177.00 C122.57,176.92 122.73,176.83 122.90,176.75 C123.07,176.67 123.23,176.59 123.40,176.51 C123.57,176.43 123.73,176.36 123.90,176.28 C124.07,176.20 124.23,176.12 124.40,176.04 C124.57,175.96 124.73,175.89 124.90,175.81 C125.07,175.73 125.23,175.66 125.40,175.58 C125.57,175.50 125.73,175.43 125.90,175.35 C126.07,175.28 126.23,175.20 126.40,175.13 C126.57,175.05 126.73,174.98 126.90,174.90 C127.07,174.83 127.23,174.76 127.40,174.68 C127.57,174.61 127.73,174.54 127.90,174.46 C128.07,174.39 128.23,174.32 128.40,174.25 C128.57,174.18 128.73,174.10 128.90,174.03 C129.07,173.96 129.23,173.89 129.40,173.82 C129.57,173.75 129.73,173.68 129.90,173.61 C130.07,173.54 130.23,173.47 130.40,173.40 C130.57,173.33 130.73,173.26 130.90,173.20 C131.07,173.13 131.23,173.06 131.40,172.99 C131.57,172.92 131.73,172.86 131.90,172.79 C132.07,172.72 132.23,172.65 132.40,172.59 C132.57,172.52 132.73,172.45 132.90,172.39 C133.07,172.32 133.23,172.26 133.40,172.19 C133.57,172.13 133.73,172.06 133.90,172.00 C134.07,171.93 134.23,171.87 134.40,171.80 C134.57,171.74 134.73,171.68 134.90,171.61 C135.07,171.55 135.23,171.48 135.40,171.42 C135.57,171.36 135.73,171.30 135.90,171.23 C136.07,171.17 136.23,171.11 136.40,171.05 C136.57,170.98 136.73,170.92 136.90,170.86 C137.07,170.80 137.23,170.74 137.40,170.68 C137.57,170.62 137.73,170.56 137.90,170.49 C138.07,170.43 138.23,170.37 138.40,170.31 C138.57,170.25 138.73,170.19 138.90,170.13 C139.07,170.08 139.23,170.02 139.40,169.96 C139.57,169.90 139.73,169.84 139.90,169.78 C140.07,169.72 140.23,169.66 140.40,169.60 C140.57,169.55 140.73,169.49 140.90,169.43 C141.07,169.37 141.23,169.32 141.40,169.26 C141.57,169.20 141.73,169.14 141.90,169.09 C142.07,169.03 142.23,168.97 142.40,168.92 C142.57,168.86 142.73,168.80 142.90,168.75 C143.07,168.69 143.23,168.63 143.40,168.58 C143.57,168.52 143.73,168.47 143.90,168.41 C144.07,168.36 144.23,168.30 144.40,168.25 C144.57,168.19 144.73,168.14 144.90,168.08 C145.07,168.03 145.23,167.97 145.40,167.92 C145.57,167.86 145.73,167.81 145.90,167.75 C146.07,167.70 146.23,167.65 146.40,167.59 C146.57,167.54 146.73,167.48 146.90,167.43 C147.07,167.38 147.23,167.32 147.40,167.27 C147.57,167.22 147.73,167.16 147.90,167.11 C148.07,167.06 148.23,167.00 148.40,166.95 C148.57,166.90 148.73,166.85 148.90,166.79 C149.07,166.74 149.23,166.69 149.40,166.64 C149.57,166.58 149.73,166.53 149.90,166.48 C150.07,166.43 150.23,166.37 150.40,166.32 C150.57,166.27 150.73,166.22 150.90,166.17 C151.07,166.11 151.23,166.06 151.40,166.01 C151.57,165.96 151.73,165.91 151.90,165.86 C152.07,165.81 152.23,165.75 152.40,165.70 C152.57,165.65 152.73,165.60 152.90,165.55 C153.07,165.50 153.23,165.45 153.40,165.40 C153.57,165.35 153.73,165.29 153.90,165.24 C154.07,165.19 154.23,165.14 154.40,165.09 C154.57,165.04 154.73,164.99 154.90,164.94 C155.07,164.89 155.23,164.84 155.40,164.79 C155.57,164.74 155.73,164.69 155.90,164.64 C156.07,164.58 156.23,164.53 156.40,164.48 C156.57,164.43 156.73,164.38 156.90,164.33 C157.07,164.28 157.23,164.23 157.40,164.18 C157.57,164.13 157.73,164.08 157.90,164.03 C158.07,163.98 158.23,163.93 158.40,163.88 C158.57,163.83 158.73,163.78 158.90,163.73 C159.07,163.68 159.23,163.63 159.40,163.58 C159.57,163.53 159.80,163.46 159.90,163.43 C160.00,163.40 159.52,163.58 160.00,163.40 C160.48,163.21 162.03,162.43 162.80,162.30 C163.57,162.17 164.03,162.22 164.60,162.60 C165.17,162.98 165.72,163.62 166.20,164.60 C166.68,165.58 167.10,166.77 167.50,168.50 C167.90,170.23 168.25,172.42 168.60,175.00 C168.95,177.58 169.28,180.83 169.60,184.00 C169.92,187.17 170.22,191.00 170.50,194.00 C170.78,197.00 170.97,198.33 171.30,202.00 C171.63,205.67 172.10,211.20 172.50,216.00 C172.90,220.80 173.12,223.22 173.70,230.80 C174.28,238.38 175.60,256.08 176.00,261.50 C176.40,266.92 176.08,263.00 176.10,263.30" stroke="#3ab070"/>
<path d="M45.40,262.43 C45.48,262.25 45.73,261.73 45.90,261.39 C46.07,261.06 46.23,260.73 46.40,260.41 C46.57,260.09 46.73,259.78 46.90,259.48 C47.07,259.18 47.23,258.89 47.40,258.60 C47.57,258.31 47.73,258.03 47.90,257.76 C48.07,257.49 48.23,257.23 48.40,256.97 C48.57,256.71 48.73,256.46 48.90,256.22 C49.07,255.98 49.23,255.74 49.40,255.51 C49.57,255.28 49.73,255.06 49.90,254.84 C50.07,254.63 50.23,254.42 50.40,254.21 C50.57,254.01 50.73,253.81 50.90,253.62 C51.07,253.42 51.23,253.24 51.40,253.05 C51.57,252.87 51.73,252.70 51.90,252.52 C52.07,252.35 52.23,252.19 52.40,252.02 C52.57,251.86 52.73,251.71 52.90,251.55 C53.07,251.40 53.23,251.25 53.40,251.11 C53.57,250.96 53.73,250.83 53.90,250.69 C54.07,250.55 54.23,250.42 54.40,250.29 C54.57,250.16 54.73,250.04 54.90,249.92 C55.07,249.80 55.23,249.68 55.40,249.56 C55.57,249.45 55.73,249.34 55.90,249.23 C56.07,249.12 56.23,249.01 56.40,248.91 C56.57,248.80 56.73,248.70 56.90,248.60 C57.07,248.50 57.23,248.40 57.40,248.31 C57.57,248.21 57.73,248.12 57.90,248.02 C58.07,247.93 58.23,247.84 58.40,247.75 C58.57,247.66 58.73,247.57 58.90,247.48 C59.07,247.39 59.23,247.31 59.40,247.22 C59.57,247.13 59.73,247.05 59.90,246.96 C60.07,246.88 60.23,246.79 60.40,246.71 C60.57,246.62 60.73,246.54 60.90,246.45 C61.07,246.37 61.23,246.28 61.40,246.20 C61.57,246.11 61.73,246.03 61.90,245.95 C62.07,245.86 62.23,245.78 62.40,245.69 C62.57,245.61 62.73,245.53 62.90,245.44 C63.07,245.36 63.23,245.27 63.40,245.19 C63.57,245.11 63.73,245.02 63.90,244.94 C64.07,244.86 64.23,244.77 64.40,244.69 C64.57,244.61 64.73,244.52 64.90,244.44 C65.07,244.36 65.23,244.28 65.40,244.19 C65.57,244.11 65.73,244.03 65.90,243.95 C66.07,243.87 66.23,243.78 66.40,243.70 C66.57,243.62 66.73,243.54 66.90,243.46 C67.07,243.38 67.23,243.30 67.40,243.21 C67.57,243.13 67.73,243.05 67.90,242.97 C68.07,242.89 68.23,242.81 68.40,242.73 C68.57,242.65 68.73,242.57 68.90,242.49 C69.07,242.41 69.23,242.33 69.40,242.25 C69.57,242.18 69.73,242.10 69.90,242.02 C70.07,241.94 70.23,241.86 70.40,241.78 C70.57,241.71 70.73,241.63 70.90,241.55 C71.07,241.47 71.23,241.40 71.40,241.32 C71.57,241.24 71.73,241.16 71.90,241.09 C72.07,241.01 72.23,240.94 72.40,240.86 C72.57,240.78 72.73,240.71 72.90,240.63 C73.07,240.56 73.23,240.48 73.40,240.41 C73.57,240.33 73.73,240.26 73.90,240.18 C74.07,240.11 74.23,240.04 74.40,239.96 C74.57,239.89 74.73,239.82 74.90,239.74 C75.07,239.67 75.23,239.60 75.40,239.53 C75.57,239.45 75.73,239.38 75.90,239.31 C76.07,239.24 76.23,239.17 76.40,239.10 C76.57,239.03 76.73,238.96 76.90,238.89 C77.07,238.82 77.23,238.75 77.40,238.68 C77.57,238.61 77.73,238.54 77.90,238.47 C78.07,238.40 78.23,238.33 78.40,238.27 C78.57,238.20 78.73,238.13 78.90,238.06 C79.07,238.00 79.23,237.93 79.40,237.87 C79.57,237.80 79.73,237.73 79.90,237.67 C80.07,237.60 80.23,237.54 80.40,237.47 C80.57,237.41 80.73,237.34 80.90,237.28 C81.07,237.22 81.23,237.15 81.40,237.09 C81.57,237.03 81.73,236.97 81.90,236.90 C82.07,236.84 82.23,236.78 82.40,236.72 C82.57,236.66 82.73,236.60 82.90,236.54 C83.07,236.48 83.23,236.42 83.40,236.36 C83.57,236.30 83.75,236.23 83.90,236.18 C84.05,236.13 83.87,235.92 84.30,236.04 C84.73,236.16 85.92,236.41 86.50,236.90 C87.08,237.39 87.43,237.88 87.80,239.00 C88.17,240.12 88.40,241.93 88.70,243.60 C89.00,245.27 89.33,247.30 89.60,249.00 C89.87,250.70 90.07,251.42 90.30,253.80 C90.53,256.18 90.88,261.72 91.00,263.30" stroke="#2a7ff0" stroke-width="1.35"/>
</g>
<line x1="48.20" y1="157.30" x2="65.40" y2="157.30" stroke="#606060" stroke-width="1.0"/>
<text transform="translate(67.40,159.80) scale(1.020,1)" font-size="7.0" text-anchor="start">SA</text>
<line x1="79.90" y1="157.30" x2="96.60" y2="157.30" stroke="#f05a5a" stroke-width="1.0"/>
<text transform="translate(98.10,159.80) scale(1.020,1)" font-size="7.0" text-anchor="start">Starch-SA</text>
<line x1="48.20" y1="167.20" x2="65.40" y2="167.20" stroke="#5a9af0" stroke-width="1.0"/>
<text transform="translate(67.40,169.70) scale(1.020,1)" font-size="7.0" text-anchor="start">Starch-SA-NaCl</text>
<line x1="48.20" y1="176.60" x2="65.40" y2="176.60" stroke="#4ab87a" stroke-width="1.0"/>
<text transform="translate(67.40,179.10) scale(1.020,1)" font-size="7.0" text-anchor="start">S-iSkin</text>
<rect x="45.5" y="152.5" width="137.0" height="111.0" fill="none" stroke="#303030" stroke-width="1.15"/>
<text transform="translate(67.00,283.50) scale(1.090,1)" font-size="10.5" text-anchor="start">Tensile strain (%)</text>
<text transform="translate(25.60,203.40) rotate(-90) scale(1.050,1)" font-size="10.5" text-anchor="middle">Tensile stress (MPa)</text>
<text x="7.20" y="155.60" font-size="15" text-anchor="start">d</text>
<line x1="224.60" y1="246.60" x2="227.60" y2="246.60" stroke="#303030" stroke-width="1.0"/>
<text transform="translate(222.00,249.00) scale(1.100,1)" font-size="8.2" text-anchor="end">0.3</text>
<line x1="224.60" y1="222.20" x2="227.60" y2="222.20" stroke="#303030" stroke-width="1.0"/>
<text transform="translate(222.00,224.60) scale(1.100,1)" font-size="8.2" text-anchor="end">0.6</text>
<line x1="224.60" y1="197.80" x2="227.60" y2="197.80" stroke="#303030" stroke-width="1.0"/>
<text transform="translate(222.00,200.20) scale(1.100,1)" font-size="8.2" text-anchor="end">0.9</text>
<line x1="224.60" y1="173.40" x2="227.60" y2="173.40" stroke="#303030" stroke-width="1.0"/>
<text transform="translate(222.00,175.80) scale(1.100,1)" font-size="8.2" text-anchor="end">1.2</text>
<line x1="224.60" y1="258.80" x2="226.60" y2="258.80" stroke="#303030" stroke-width="1.0"/>
<line x1="224.60" y1="234.40" x2="226.60" y2="234.40" stroke="#303030" stroke-width="1.0"/>
<line x1="224.60" y1="210.00" x2="226.60" y2="210.00" stroke="#303030" stroke-width="1.0"/>
<line x1="224.60" y1="185.60" x2="226.60" y2="185.60" stroke="#303030" stroke-width="1.0"/>
<line x1="224.60" y1="161.20" x2="226.60" y2="161.20" stroke="#303030" stroke-width="1.0"/>
<line x1="234.10" y1="263.00" x2="234.10" y2="260.00" stroke="#303030" stroke-width="1.0"/>
<line x1="273.10" y1="263.00" x2="273.10" y2="260.00" stroke="#303030" stroke-width="1.0"/>
<line x1="312.10" y1="263.00" x2="312.10" y2="260.00" stroke="#303030" stroke-width="1.0"/>
<line x1="351.10" y1="263.00" x2="351.10" y2="260.00" stroke="#303030" stroke-width="1.0"/>
<polyline points="234.10,250.80 273.10,224.50 312.10,240.70 351.10,160.70" fill="none" stroke="#262626" stroke-width="1.2"/>
<line x1="234.10" y1="245.40" x2="234.10" y2="256.30" stroke="#262626" stroke-width="1.1"/>
<line x1="232.10" y1="245.40" x2="236.10" y2="245.40" stroke="#262626" stroke-width="1.1"/>
<line x1="232.10" y1="256.30" x2="236.10" y2="256.30" stroke="#262626" stroke-width="1.1"/>
<circle cx="234.1" cy="250.8" r="2.3" fill="#fff" stroke="#262626" stroke-width="1.7"/>
<line x1="273.10" y1="218.70" x2="273.10" y2="230.40" stroke="#ff2020" stroke-width="1.1"/>
<line x1="271.10" y1="218.70" x2="275.10" y2="218.70" stroke="#ff2020" stroke-width="1.1"/>
<line x1="271.10" y1="230.40" x2="275.10" y2="230.40" stroke="#ff2020" stroke-width="1.1"/>
<circle cx="273.1" cy="224.5" r="2.3" fill="#fff" stroke="#ff2020" stroke-width="1.7"/>
<line x1="312.10" y1="235.30" x2="312.10" y2="246.70" stroke="#2020ff" stroke-width="1.1"/>
<line x1="310.10" y1="235.30" x2="314.10" y2="235.30" stroke="#2020ff" stroke-width="1.1"/>
<line x1="310.10" y1="246.70" x2="314.10" y2="246.70" stroke="#2020ff" stroke-width="1.1"/>
<circle cx="312.1" cy="240.7" r="2.3" fill="#fff" stroke="#2020ff" stroke-width="1.7"/>
<line x1="351.10" y1="155.60" x2="351.10" y2="166.80" stroke="#0c920c" stroke-width="1.1"/>
<line x1="349.10" y1="155.60" x2="353.10" y2="155.60" stroke="#0c920c" stroke-width="1.1"/>
<line x1="349.10" y1="166.80" x2="353.10" y2="166.80" stroke="#0c920c" stroke-width="1.1"/>
<circle cx="351.1" cy="160.7" r="2.3" fill="#fff" stroke="#0c920c" stroke-width="1.7"/>
<rect x="224.6" y="152.6" width="136.4" height="110.4" fill="none" stroke="#303030" stroke-width="1.15"/>
<text x="234.50" y="275.00" font-size="8.9" text-anchor="middle">Starch</text>
<text x="271.10" y="275.00" font-size="8.9" text-anchor="middle">Starch</text>
<text x="271.10" y="285.50" font-size="8.9" text-anchor="middle">-SA</text>
<text x="308.10" y="275.00" font-size="8.9" text-anchor="middle">Starch-</text>
<text x="309.00" y="285.50" font-size="8.9" text-anchor="middle">SA-NaCl</text>
<text x="347.50" y="275.00" font-size="8.9" text-anchor="middle">S-iSkin</text>
<text transform="translate(204.90,207.30) rotate(-90) scale(1.130,1)" font-size="10.2" text-anchor="middle">Tensile strength (MPa)</text>
<text transform="translate(186.80,155.90) scale(0.970,1)" font-size="15.8" text-anchor="start">e</text>
<line x1="403.60" y1="250.30" x2="406.60" y2="250.30" stroke="#303030" stroke-width="1.0"/>
<text transform="translate(400.80,253.10) scale(1.060,1)" font-size="8.4" text-anchor="end">20</text>
<line x1="403.60" y1="228.55" x2="406.60" y2="228.55" stroke="#303030" stroke-width="1.0"/>
<text transform="translate(400.80,231.35) scale(1.060,1)" font-size="8.4" text-anchor="end">30</text>
<line x1="403.60" y1="206.80" x2="406.60" y2="206.80" stroke="#303030" stroke-width="1.0"/>
<text transform="translate(400.80,209.60) scale(1.060,1)" font-size="8.4" text-anchor="end">40</text>
<line x1="403.60" y1="185.05" x2="406.60" y2="185.05" stroke="#303030" stroke-width="1.0"/>
<text transform="translate(400.80,187.85) scale(1.060,1)" font-size="8.4" text-anchor="end">50</text>
<line x1="403.60" y1="163.30" x2="406.60" y2="163.30" stroke="#303030" stroke-width="1.0"/>
<text transform="translate(400.80,166.10) scale(1.060,1)" font-size="8.4" text-anchor="end">60</text>
<line x1="403.60" y1="261.18" x2="405.60" y2="261.18" stroke="#303030" stroke-width="1.0"/>
<line x1="403.60" y1="239.43" x2="405.60" y2="239.43" stroke="#303030" stroke-width="1.0"/>
<line x1="403.60" y1="217.68" x2="405.60" y2="217.68" stroke="#303030" stroke-width="1.0"/>
<line x1="403.60" y1="195.93" x2="405.60" y2="195.93" stroke="#303030" stroke-width="1.0"/>
<line x1="403.60" y1="174.18" x2="405.60" y2="174.18" stroke="#303030" stroke-width="1.0"/>
<line x1="413.80" y1="263.00" x2="413.80" y2="260.00" stroke="#303030" stroke-width="1.0"/>
<line x1="452.50" y1="263.00" x2="452.50" y2="260.00" stroke="#303030" stroke-width="1.0"/>
<line x1="491.60" y1="263.00" x2="491.60" y2="260.00" stroke="#303030" stroke-width="1.0"/>
<line x1="530.40" y1="263.00" x2="530.40" y2="260.00" stroke="#303030" stroke-width="1.0"/>
<polyline points="413.80,235.60 452.50,222.80 491.60,250.30 530.40,164.00" fill="none" stroke="#262626" stroke-width="1.2"/>
<line x1="413.80" y1="230.60" x2="413.80" y2="241.30" stroke="#111" stroke-width="1.1"/>
<line x1="411.80" y1="230.60" x2="415.80" y2="230.60" stroke="#111" stroke-width="1.1"/>
<line x1="411.80" y1="241.30" x2="415.80" y2="241.30" stroke="#111" stroke-width="1.1"/>
<rect x="411.5" y="233.29999999999998" width="4.6" height="4.6" fill="#111"/>
<line x1="452.50" y1="217.70" x2="452.50" y2="228.20" stroke="#ff1a1a" stroke-width="1.1"/>
<line x1="450.50" y1="217.70" x2="454.50" y2="217.70" stroke="#ff1a1a" stroke-width="1.1"/>
<line x1="450.50" y1="228.20" x2="454.50" y2="228.20" stroke="#ff1a1a" stroke-width="1.1"/>
<rect x="450.2" y="220.5" width="4.6" height="4.6" fill="#ff1a1a"/>
<line x1="491.60" y1="244.90" x2="491.60" y2="255.70" stroke="#1a1aff" stroke-width="1.1"/>
<line x1="489.60" y1="244.90" x2="493.60" y2="244.90" stroke="#1a1aff" stroke-width="1.1"/>
<line x1="489.60" y1="255.70" x2="493.60" y2="255.70" stroke="#1a1aff" stroke-width="1.1"/>
<rect x="489.3" y="248.0" width="4.6" height="4.6" fill="#1a1aff"/>
<line x1="530.40" y1="157.70" x2="530.40" y2="169.10" stroke="#0c920c" stroke-width="1.1"/>
<line x1="528.40" y1="157.70" x2="532.40" y2="157.70" stroke="#0c920c" stroke-width="1.1"/>
<line x1="528.40" y1="169.10" x2="532.40" y2="169.10" stroke="#0c920c" stroke-width="1.1"/>
<rect x="528.1" y="161.7" width="4.6" height="4.6" fill="#0c920c"/>
<rect x="403.6" y="152.6" width="136.89999999999998" height="110.4" fill="none" stroke="#303030" stroke-width="1.15"/>
<text x="414.70" y="275.00" font-size="8.9" text-anchor="middle">Starch</text>
<text x="451.30" y="275.00" font-size="8.9" text-anchor="middle">Starch</text>
<text x="451.10" y="285.50" font-size="8.9" text-anchor="middle">-SA</text>
<text x="488.80" y="275.00" font-size="8.9" text-anchor="middle">Starch-</text>
<text x="488.90" y="285.50" font-size="8.9" text-anchor="middle">SA-NaCl</text>
<text x="525.90" y="275.00" font-size="8.9" text-anchor="middle">S-iSkin</text>
<text transform="translate(387.30,207.10) rotate(-90) scale(1.120,1)" font-size="10.2" text-anchor="middle">Elongation at break (%)</text>
<text x="368.00" y="155.50" font-size="15" text-anchor="start">f</text>
</svg>
</body></html>
